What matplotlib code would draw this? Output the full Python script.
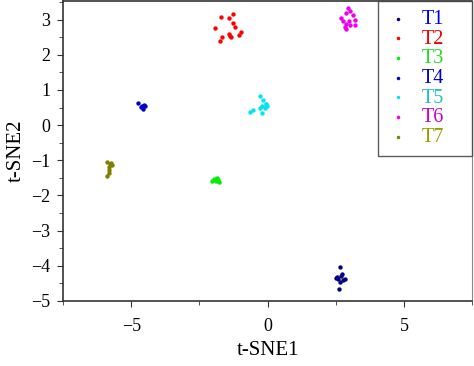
import numpy as np
import matplotlib.pyplot as plt

plt.rcParams['font.family'] = ['Liberation Serif', 'DejaVu Serif']

labels = ['T1', 'T2', 'T3', 'T4', 'T5', 'T6', 'T7']
colors = ['#000080', '#ff0000', '#00ee00', '#0000cc', '#00e5ee', '#ee00ee', '#808000']
text_colors = ['#0000dd', '#ee0000', '#22dd22', '#0000cc', '#20c0c0', '#cc00cc', '#999900']

t1_x = [2.67, 2.50, 2.59, 2.71, 2.77, 2.83, 2.65, 2.62, 2.74, 2.55]
t1_y = [-4.05, -4.36, -4.38, -4.28, -4.40, -4.38, -4.47, -4.66, -4.24, -4.33]
t2_x = [-1.72, -1.40, -1.25, -1.27, -1.18, -1.91, -0.97, -1.03, -1.42, -1.34, -1.67, -1.76, -1.38]
t2_y = [3.09, 3.04, 3.15, 2.90, 2.78, 2.75, 2.64, 2.57, 2.59, 2.52, 2.51, 2.40, 2.55]
t3_x = [-2.03, -1.95, -1.86, -1.79, -1.89, -1.81]
t3_y = [-1.60, -1.53, -1.51, -1.63, -1.60, -1.55]
t4_x = [-4.74, -4.61, -4.52, -4.58, -4.49, -4.63]
t4_y = [0.63, 0.54, 0.56, 0.47, 0.54, 0.52]
t5_x = [-0.27, -0.17, -0.07, -0.02, -0.20, -0.29, -0.54, -0.64, -0.22, -0.10, -0.04]
t5_y = [0.82, 0.71, 0.61, 0.54, 0.54, 0.50, 0.42, 0.38, 0.35, 0.50, 0.60]
t6_x = [2.95, 3.04, 2.87, 3.14, 2.71, 3.20, 2.98, 2.87, 3.04, 3.20, 2.83, 2.89, 2.77]
t6_y = [3.34, 3.25, 3.20, 3.13, 3.06, 2.98, 2.97, 2.89, 2.85, 2.85, 2.80, 2.73, 2.95]
t7_x = [-5.87, -5.75, -5.69, -5.81, -5.83, -5.81, -5.87, -5.78]
t7_y = [-1.04, -1.08, -1.13, -1.18, -1.27, -1.35, -1.44, -1.10]

xs = [t1_x, t2_x, t3_x, t4_x, t5_x, t6_x, t7_x]
ys = [t1_y, t2_y, t3_y, t4_y, t5_y, t6_y, t7_y]


def main():
    fig = plt.figure(figsize=(4.74, 3.66), dpi=100)
    ax = fig.add_axes([0.133, 0.178, 0.863, 0.82])

    for x, y, c, lab in zip(xs, ys, colors, labels):
        ax.scatter(x, y, s=10, color=c, label=lab, linewidths=0)

    ax.set_xlim(-7.5, 7.5)
    ax.set_ylim(-5, 3.54)
    ax.set_xticks([-5, 0, 5])
    ax.set_xticks(np.arange(-7.5, 7.6, 2.5), minor=True)
    ax.set_yticks(np.arange(-5, 4, 1))
    ax.set_yticks(np.arange(-5, 3.6, 0.5), minor=True)
    ax.set_yticklabels(['\u22125', '\u22124', '\u22123', '\u22122', '\u22121', '0', '1', '2', '3'])
    ax.set_xticklabels(['\u22125', '0', '5'])
    ax.tick_params(labelsize=13, direction='out', length=4, color='#333333')
    ax.tick_params(axis='x', pad=8)
    ax.tick_params(axis='y', pad=5)
    ax.tick_params(which='minor', length=3, color='#333333')

    for side in ['left', 'bottom', 'top']:
        ax.spines[side].set_color('#333333')
        ax.spines[side].set_linewidth(1.2)
    ax.spines['right'].set_color('#888888')

    ax.set_xlabel('t-SNE1', fontsize=15, labelpad=5)
    ax.set_ylabel('t-SNE2', fontsize=15, labelpad=4)

    leg = ax.legend(loc='upper left', bbox_to_anchor=(0.770, 0, 0.23, 1.0), mode='expand',
                    borderaxespad=0, fancybox=False, edgecolor='#333333', fontsize=14.5,
                    markerscale=0.8, labelspacing=0.03, handlelength=1.1,
                    handletextpad=0.6, borderpad=0.45, scatterpoints=1)
    leg.get_frame().set_linewidth(1.0)
    for txt, c in zip(leg.get_texts(), text_colors):
        txt.set_color(c)

    fig.savefig('out.png', dpi=100)


if __name__ == "__main__":
    main()
